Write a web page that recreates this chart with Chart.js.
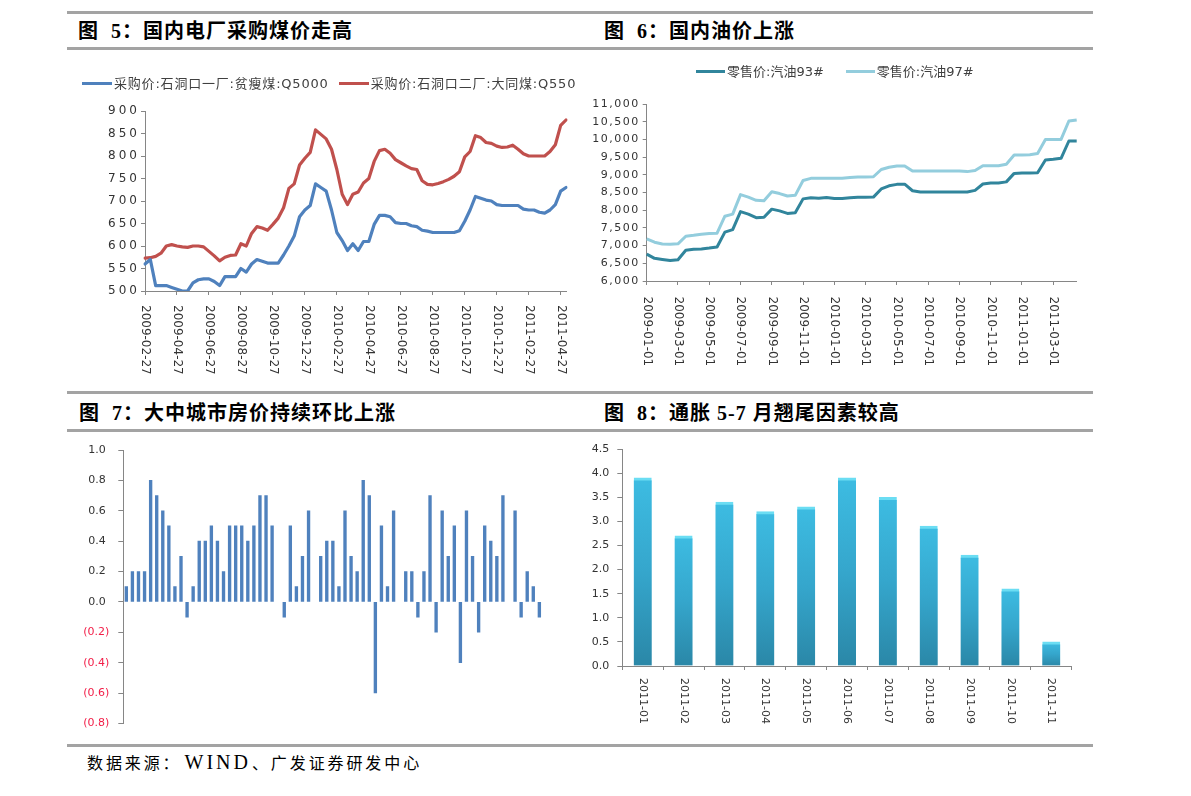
<!DOCTYPE html>
<html>
<head>
<meta charset="utf-8">
<script src="https://cdn.jsdelivr.net/npm/chart.js"></script>
<style>
  html, body { margin: 0; padding: 0; background: #fff; }
  body { width: 1191px; height: 796px; position: relative; overflow: hidden; }
  .rule { position: absolute; left: 67px; width: 1026px; height: 3px; background: #a3a3a3; }
  .title { position: absolute; height: 24px; line-height: 24px; font-weight: bold; font-size: 20px;
           font-family: "Liberation Serif", "Noto Sans CJK SC", serif; letter-spacing: 1px; color: #000; white-space: pre; }
  .foot { position: absolute; left: 87px; top: 750px; height: 24px; line-height: 24px; font-size: 16px;
          font-family: "Liberation Serif", "Noto Sans CJK SC", serif; letter-spacing: 2.9px; color: #000; white-space: pre; }
  .foot .w { font-size: 20px; letter-spacing: 3px; margin-left: 3px; margin-right: 1px; }
  canvas { position: absolute; }
  .legend { position: absolute; white-space: nowrap; overflow: hidden; height: 17px; line-height: 17px;
            font-size: 13px; font-family: "DejaVu Sans", "Noto Sans CJK SC", sans-serif; color: #404040; z-index: 2; }
  .legend .sw { display: inline-block; height: 3px; vertical-align: middle; margin-right: 2px; position: relative; top: -1px; }
</style>
</head>
<body>
<div class="rule" style="top:11px"></div>
<div class="rule" style="top:47px"></div>
<div class="rule" style="top:391px"></div>
<div class="rule" style="top:429px"></div>
<div class="rule" style="top:744px"></div>

<div class="title" style="left:78px;top:19px">图  5：国内电厂采购煤价走高</div>
<div class="title" style="left:604px;top:19px">图  6：国内油价上涨</div>
<div class="title" style="left:79px;top:401px">图  7：大中城市房价持续环比上涨</div>
<div class="title" style="left:604px;top:401px">图  8：通胀 5-7 月翘尾因素较高</div>
<div class="foot">数据来源：<span class="w">WIND</span>、广发证券研发中心</div>

<div class="legend" id="legA" style="left:82px;top:75px;width:495px;letter-spacing:0.8px"></div>
<div class="legend" id="legB" style="left:696px;top:63px;width:390px"></div>

<canvas id="cA" width="523" height="340" style="left:67px;top:50px"></canvas>
<canvas id="cB" width="518" height="340" style="left:575px;top:50px"></canvas>
<canvas id="cC" width="523" height="305" style="left:67px;top:434px"></canvas>
<canvas id="cD" width="518" height="305" style="left:575px;top:434px"></canvas>

<script>
// ---------- 图5 电厂采购煤价 ----------
const coalDates = [
  '2009-02-27','2009-03-07','2009-03-17','2009-03-27','2009-04-07','2009-04-17','2009-04-27',
  '2009-05-07','2009-05-17','2009-05-27','2009-06-07','2009-06-17','2009-06-27',
  '2009-07-07','2009-07-17','2009-07-27','2009-08-07','2009-08-17','2009-08-27',
  '2009-09-07','2009-09-17','2009-09-27','2009-10-07','2009-10-17','2009-10-27',
  '2009-11-07','2009-11-17','2009-11-27','2009-12-07','2009-12-17','2009-12-27',
  '2010-01-07','2010-01-17','2010-01-27','2010-02-07','2010-02-17','2010-02-27',
  '2010-03-07','2010-03-17','2010-03-27','2010-04-07','2010-04-17','2010-04-27',
  '2010-05-07','2010-05-17','2010-05-27','2010-06-07','2010-06-17','2010-06-27',
  '2010-07-07','2010-07-17','2010-07-27','2010-08-07','2010-08-17','2010-08-27',
  '2010-09-07','2010-09-17','2010-09-27','2010-10-07','2010-10-17','2010-10-27',
  '2010-11-07','2010-11-17','2010-11-27','2010-12-07','2010-12-17','2010-12-27',
  '2011-01-07','2011-01-17','2011-01-27','2011-02-07','2011-02-17','2011-02-27',
  '2011-03-07','2011-03-17','2011-03-27','2011-04-07','2011-04-17','2011-04-27','2011-05-07'
];
const coalTickLabels = ['2009-02-27','2009-04-27','2009-06-27','2009-08-27','2009-10-27','2009-12-27',
  '2010-02-27','2010-04-27','2010-06-27','2010-08-27','2010-10-27','2010-12-27','2011-02-27','2011-04-27'];
const coalSeriesNames = ['采购价:石洞口一厂:贫瘦煤:Q5000', '采购价:石洞口二厂:大同煤:Q5500'];
const coalBlue = [560,570,512,512,512,508,504,500,500,518,525,527,527,521,512,532,532,532,550,542,
  560,570,566,562,562,562,580,600,622,665,680,690,738,730,722,680,630,612,590,605,
  590,610,610,648,668,668,665,652,650,650,645,643,635,633,630,630,630,630,630,634,
  655,680,710,706,702,700,692,690,690,690,690,682,680,680,675,673,680,692,722,730];
const coalRed = [573,574,577,584,600,603,600,598,597,600,600,598,588,578,567,575,579,580,605,600,
  628,643,640,635,648,662,685,728,738,780,795,808,858,848,838,815,770,715,692,715,
  720,740,750,788,812,815,806,792,785,778,772,770,745,737,736,739,743,748,755,765,
  798,810,845,841,830,828,822,819,820,824,815,805,800,800,800,800,810,825,868,880];

// ---------- 图6 国内油价 ----------
const oilDates = [
  '2009-01-01','2009-01-16','2009-02-01','2009-02-16','2009-03-01','2009-03-16','2009-04-01','2009-04-16',
  '2009-05-01','2009-05-16','2009-06-01','2009-06-16','2009-07-01','2009-07-16','2009-08-01','2009-08-16',
  '2009-09-01','2009-09-16','2009-10-01','2009-10-16','2009-11-01','2009-11-16','2009-12-01','2009-12-16',
  '2010-01-01','2010-01-16','2010-02-01','2010-02-16','2010-03-01','2010-03-16','2010-04-01','2010-04-16',
  '2010-05-01','2010-05-16','2010-06-01','2010-06-16','2010-07-01','2010-07-16','2010-08-01','2010-08-16',
  '2010-09-01','2010-09-16','2010-10-01','2010-10-16','2010-11-01','2010-11-16','2010-12-01','2010-12-16',
  '2011-01-01','2011-01-16','2011-02-01','2011-02-16','2011-03-01','2011-03-16','2011-04-01','2011-04-16'
];
const oilTickLabels = ['2009-01-01','2009-03-01','2009-05-01','2009-07-01','2009-09-01','2009-11-01',
  '2010-01-01','2010-03-01','2010-05-01','2010-07-01','2010-09-01','2010-11-01','2011-01-01','2011-03-01'];
const oilSeriesNames = ['零售价:汽油93#', '零售价:汽油97#'];
const oil93 = [6760,6640,6610,6580,6600,6870,6900,6905,6930,6960,7380,7450,7960,7890,7790,7800,
  8030,7980,7910,7930,8320,8350,8340,8360,8330,8330,8350,8365,8365,8370,8600,8690,
  8730,8735,8550,8515,8515,8515,8515,8515,8515,8515,8560,8740,8770,8770,8800,9040,
  9050,9050,9060,9420,9440,9465,9955,9955];
const oil97 = [7190,7095,7045,7036,7050,7265,7290,7320,7340,7350,7830,7890,8440,8370,8280,8270,
  8520,8470,8400,8420,8840,8900,8900,8900,8900,8905,8925,8935,8938,8945,9150,9215,
  9250,9250,9107,9107,9107,9107,9107,9107,9107,9090,9120,9258,9258,9258,9300,9559,
  9559,9565,9600,10000,10000,10000,10520,10548];

// ---------- 图7 房价环比 ----------
const houseMoM = [0.1,0.2,0.2,0.2,0.8,0.7,0.6,0.5,0.1,0.3,
  -0.1,0.1,0.4,0.4,0.5,0.4,0.2,0.5,0.5,0.5,
  0.4,0.5,0.7,0.7,0.5,0,-0.1,0.5,0.1,0.3,
  0.6,0,0.3,0.4,0.4,0.1,0.6,0.3,0.2,0.8,
  0.7,-0.6,0.5,0.1,0.6,0,0.2,0.2,-0.1,0.2,
  0.7,-0.2,0.6,0.3,0.5,-0.4,0.6,0.3,-0.2,0.5,
  0.4,0.3,0.7,0,0.6,-0.1,0.2,0.1,-0.1];
const houseSlots = houseMoM.map((_, i) => String(i + 1));

// ---------- 图8 翘尾因素 ----------
const cpiMonths = ['2011-01','2011-02','2011-03','2011-04','2011-05','2011-06','2011-07','2011-08','2011-09','2011-10','2011-11'];
const cpiTail = [3.9,2.7,3.4,3.2,3.3,3.9,3.5,2.9,2.3,1.6,0.5];

// ---------- helpers ----------
const AXIS = '#868686';
const TXT = '#333333';
Chart.defaults.font.family = '"DejaVu Sans", sans-serif';
Chart.defaults.font.size = 11;

function buildLegend(el, names, colors, widths, gap) {
  names.forEach((n, i) => {
    const item = document.createElement('span');
    if (i > 0) item.style.marginLeft = gap + 'px';
    const sw = document.createElement('span');
    sw.className = 'sw';
    sw.style.width = widths[i] + 'px';
    sw.style.background = colors[i];
    item.appendChild(sw);
    item.appendChild(document.createTextNode(n));
    el.appendChild(item);
  });
}

function verticalXLabels(show, font, color, gap) {
  return {
    id: 'verticalXLabels',
    afterDraw(chart) {
      const xs = chart.scales.x, c = chart.ctx, labels = chart.data.labels;
      c.save();
      c.letterSpacing = '0px';
      c.font = font; c.fillStyle = color; c.textAlign = 'left'; c.textBaseline = 'middle';
      labels.forEach((lbl, i) => {
        if (!show(lbl)) return;
        const x = xs.getPixelForValue(i);
        c.save(); c.translate(x, xs.top + gap); c.rotate(Math.PI / 2); c.fillText(lbl, 0, 0); c.restore();
      });
      c.restore();
    }
  };
}
function spacedText(s) {
  return { id: 'spacedText', beforeDraw(chart) { chart.ctx.letterSpacing = s; } };
}

const baseOpts = {
  responsive: false, animation: false, devicePixelRatio: 1,
  plugins: { legend: { display: false }, tooltip: { enabled: false } }
};

// ---------- Chart A ----------
const colA = ['#4F81BD', '#C0504D'];
buildLegend(document.getElementById('legA'), coalSeriesNames, colA, [30, 30], 10);
new Chart(document.getElementById('cA'), {
  type: 'line',
  data: { labels: coalDates, datasets: [
    { data: coalBlue, borderColor: colA[0], borderWidth: 3.2, pointRadius: 0, tension: 0, borderJoinStyle: 'round', borderCapStyle: 'round' },
    { data: coalRed, borderColor: colA[1], borderWidth: 3.2, pointRadius: 0, tension: 0, borderJoinStyle: 'round', borderCapStyle: 'round' }
  ]},
  options: Object.assign({}, baseOpts, {
    layout: { padding: { left: 0, top: 61, right: 24, bottom: 0 } },
    scales: {
      x: { ticks: { display: false },
           grid: { drawOnChartArea: false, tickLength: 4,
                   tickColor: (c) => coalTickLabels.includes(coalDates[c.index]) ? AXIS : 'rgba(0,0,0,0)' },
           border: { color: AXIS }, afterFit: (s) => { s.height = 99; } },
      y: { min: 500, max: 900, ticks: { stepSize: 50, color: TXT, padding: 1, font: { size: 12 } },
           grid: { drawOnChartArea: false, tickLength: 4, tickColor: AXIS },
           border: { color: AXIS }, afterFit: (s) => { s.width = 78; } }
    }
  }),
  plugins: [spacedText('3px'), verticalXLabels((l) => coalTickLabels.includes(l), '12px "DejaVu Sans"', TXT, 14)]
});

// ---------- Chart B ----------
const colB = ['#31859C', '#93CDDD'];
buildLegend(document.getElementById('legB'), oilSeriesNames, colB, [29, 29], 22);
new Chart(document.getElementById('cB'), {
  type: 'line',
  data: { labels: oilDates, datasets: [
    { data: oil93, borderColor: colB[0], borderWidth: 3, pointRadius: 0, tension: 0, borderJoinStyle: 'round' },
    { data: oil97, borderColor: colB[1], borderWidth: 3, pointRadius: 0, tension: 0, borderJoinStyle: 'round' }
  ]},
  options: Object.assign({}, baseOpts, {
    layout: { padding: { left: 0, top: 54, right: 16.3, bottom: 0 } },
    scales: {
      x: { ticks: { display: false },
           grid: { drawOnChartArea: false, tickLength: 4,
                   tickColor: (c) => oilTickLabels.includes(oilDates[c.index]) ? AXIS : 'rgba(0,0,0,0)' },
           border: { color: AXIS }, afterFit: (s) => { s.height = 109; } },
      y: { min: 6000, max: 11000,
           ticks: { stepSize: 500, color: TXT, padding: 3, font: { size: 11 }, callback: (v) => v.toLocaleString('en-US') },
           grid: { drawOnChartArea: false, tickLength: 4, tickColor: AXIS },
           border: { color: AXIS }, afterFit: (s) => { s.width = 71.7; } }
    }
  }),
  plugins: [spacedText('1.5px'), verticalXLabels((l) => oilTickLabels.includes(l), '12px "DejaVu Sans"', TXT, 15.5)]
});

// ---------- Chart C ----------
new Chart(document.getElementById('cC'), {
  type: 'bar',
  data: { labels: houseSlots, datasets: [
    { data: houseMoM, backgroundColor: (c) => c.raw === 0 ? 'rgba(0,0,0,0)' : '#4F81BD', barThickness: 2.7 }
  ]},
  options: Object.assign({}, baseOpts, {
    layout: { padding: { left: 0, top: 16, right: 47.6, bottom: 14.7 } },
    scales: {
      x: { display: false },
      y: { min: -0.8, max: 1.0,
           ticks: { stepSize: 0.2, padding: 9, font: { size: 11 },
                    color: (c) => (c.tick && c.tick.value < -1e-9) ? '#F21D47' : TXT,
                    callback: (v) => v < -1e-9 ? '(' + (-v).toFixed(1) + ')' : (Math.abs(v) < 1e-9 ? 0 : v).toFixed(1) + ' ' },
           grid: { drawOnChartArea: false, tickLength: 5, tickColor: AXIS },
           border: { color: AXIS }, afterFit: (s) => { s.width = 56.3; } }
    }
  })
});

// ---------- Chart D ----------
function cylinderFill(c) {
  const ch = c.chart, y = ch.scales.y;
  if (!y || c.raw == null) return '#33A3C8';
  const top = y.getPixelForValue(c.raw), bot = y.getPixelForValue(0);
  if (!isFinite(top) || !isFinite(bot) || bot - top < 1) return '#33A3C8';
  const g = ch.ctx.createLinearGradient(0, top, 0, bot);
  g.addColorStop(0, '#3DBCE2');
  g.addColorStop(0.5, '#35A6CC');
  g.addColorStop(1, '#2A87A7');
  return g;
}
new Chart(document.getElementById('cD'), {
  type: 'bar',
  data: { labels: cpiMonths, datasets: [
    { data: cpiTail, backgroundColor: cylinderFill, borderColor: '#6BDDF3',
      borderWidth: { top: 3, left: 0, right: 0, bottom: 0 }, barThickness: 18 }
  ]},
  options: Object.assign({}, baseOpts, {
    layout: { padding: { left: 0, top: 15, right: 21.3, bottom: 0 } },
    scales: {
      x: { ticks: { display: false },
           grid: { drawOnChartArea: false, tickLength: 4, tickColor: AXIS },
           border: { color: AXIS }, afterFit: (s) => { s.height = 73; } },
      y: { min: 0, max: 4.5,
           ticks: { stepSize: 0.5, padding: 8, color: TXT, font: { size: 11 }, callback: (v) => v.toFixed(1) },
           grid: { drawOnChartArea: false, tickLength: 5, tickColor: AXIS },
           border: { color: AXIS }, afterFit: (s) => { s.width = 47.3; } }
    }
  }),
  plugins: [verticalXLabels(() => true, '11px "DejaVu Sans"', TXT, 12)]
});
</script>
</body>
</html>
